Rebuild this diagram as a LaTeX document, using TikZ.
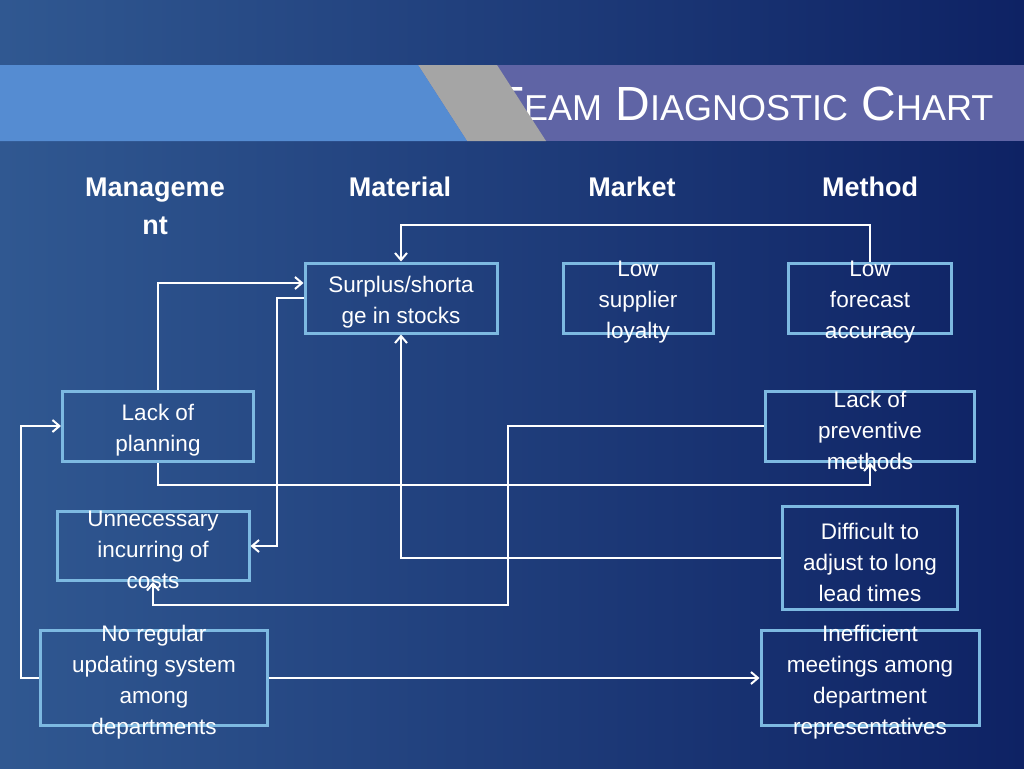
\documentclass[tikz,border=0pt]{standalone}
\usepackage{fontspec}
\setmainfont{Liberation Sans}
\usetikzlibrary{arrows.meta}
\begin{document}
\begin{tikzpicture}[x=1pt,y=-1pt,
  box/.style={draw=boxc,line width=3pt,inner sep=0pt},
  txt/.style={align=center,text=white,inner sep=0pt,yshift=-4pt,font=\fontsize{22.5}{31}\selectfont},
  hd/.style={text=white,font=\fontsize{27}{38}\selectfont\bfseries,align=center},
  ln/.style={draw=white,line width=2pt},
  ar/.style={ln,->,>={Straight Barb[length=7pt,width=12pt]}}]
\definecolor{boxc}{RGB}{125,185,225}
\definecolor{bgl}{RGB}{48,88,145}
\definecolor{bgr}{RGB}{14,34,100}
\definecolor{barb}{RGB}{85,140,210}
\definecolor{barg}{RGB}{165,165,165}
\definecolor{barp}{RGB}{95,100,165}
\useasboundingbox (0,0) rectangle (1024,768);
\shade[left color=bgl,right color=bgr] (0,0) rectangle (1024,768);
% title bar
\fill[barp] (0,65) rectangle (1024,141);
\node[anchor=east,text=white,font=\fontsize{48}{48}\selectfont] (title) at (997,104)
  {T{\fontsize{36}{36}\selectfont EAM} D{\fontsize{36}{36}\selectfont IAGNOSTIC} C{\fontsize{36}{36}\selectfont HART}};
\fill[barg] (418,65) -- (497,65) -- (546,141) -- (467,141) -- cycle;
\fill[barb] (0,65) -- (418,65) -- (467,141) -- (0,141) -- cycle;
% headings
\node[hd] (h1) at (155,206) {Manageme\\nt};
\node[hd] (h2) at (400,187) {Material};
\node[hd] (h3) at (632,187) {Market};
\node[hd] (h4) at (870,187) {Method};
% boxes
\node[box,minimum width=192,minimum height=70] (sur) at (401,298) {};
\node[txt] at (sur) {Surplus/shorta\\ge in stocks};
\node[box,minimum width=150,minimum height=70] (sup) at (638,298) {};
\node[txt] at (sup) {Low\\supplier\\loyalty};
\node[box,minimum width=163,minimum height=70] (fc) at (870,298) {};
\node[txt] at (fc) {Low\\forecast\\accuracy};
\node[box,minimum width=191,minimum height=70] (lp) at (158,426) {};
\node[txt] at (lp) {Lack of\\planning};
\node[box,minimum width=209,minimum height=70] (pm) at (870,426) {};
\node[txt] at (pm) {Lack of\\preventive\\methods};
\node[box,minimum width=192,minimum height=69] (uc) at (153,546) {};
\node[txt] at (uc) {Unnecessary\\incurring of\\costs};
\node[box,minimum width=175,minimum height=103] (dl) at (870,558) {};
\node[txt] at (dl) {Difficult to\\adjust to long\\lead times};
\node[box,minimum width=227,minimum height=95] (nr) at (154,678) {};
\node[txt] at (nr) {No regular\\updating system\\among\\departments};
\node[box,minimum width=218,minimum height=95] (im) at (870,678) {};
\node[txt] at (im) {Inefficient\\meetings among\\department\\representatives};
% connectors
\draw[ar] (fc.north) -- (870,225) -| (sur.north);
\draw[ar] (lp.north) |- (sur.west |- 0,283);
\draw[ar] (sur.west |- 0,298) -- (277,298) |- (uc.east);
\draw[ar] (lp.south) -- (158,485) -| (pm.south);
\draw[ar] (pm.west) -- (508,426) |- (153,605) -- (uc.south);
\draw[ar] (dl.west) -| (sur.south);
\draw[ar] (nr.west) -- (21,678) |- (lp.west);
\draw[ar] (nr.east) -- (im.west);
\end{tikzpicture}
\end{document}
